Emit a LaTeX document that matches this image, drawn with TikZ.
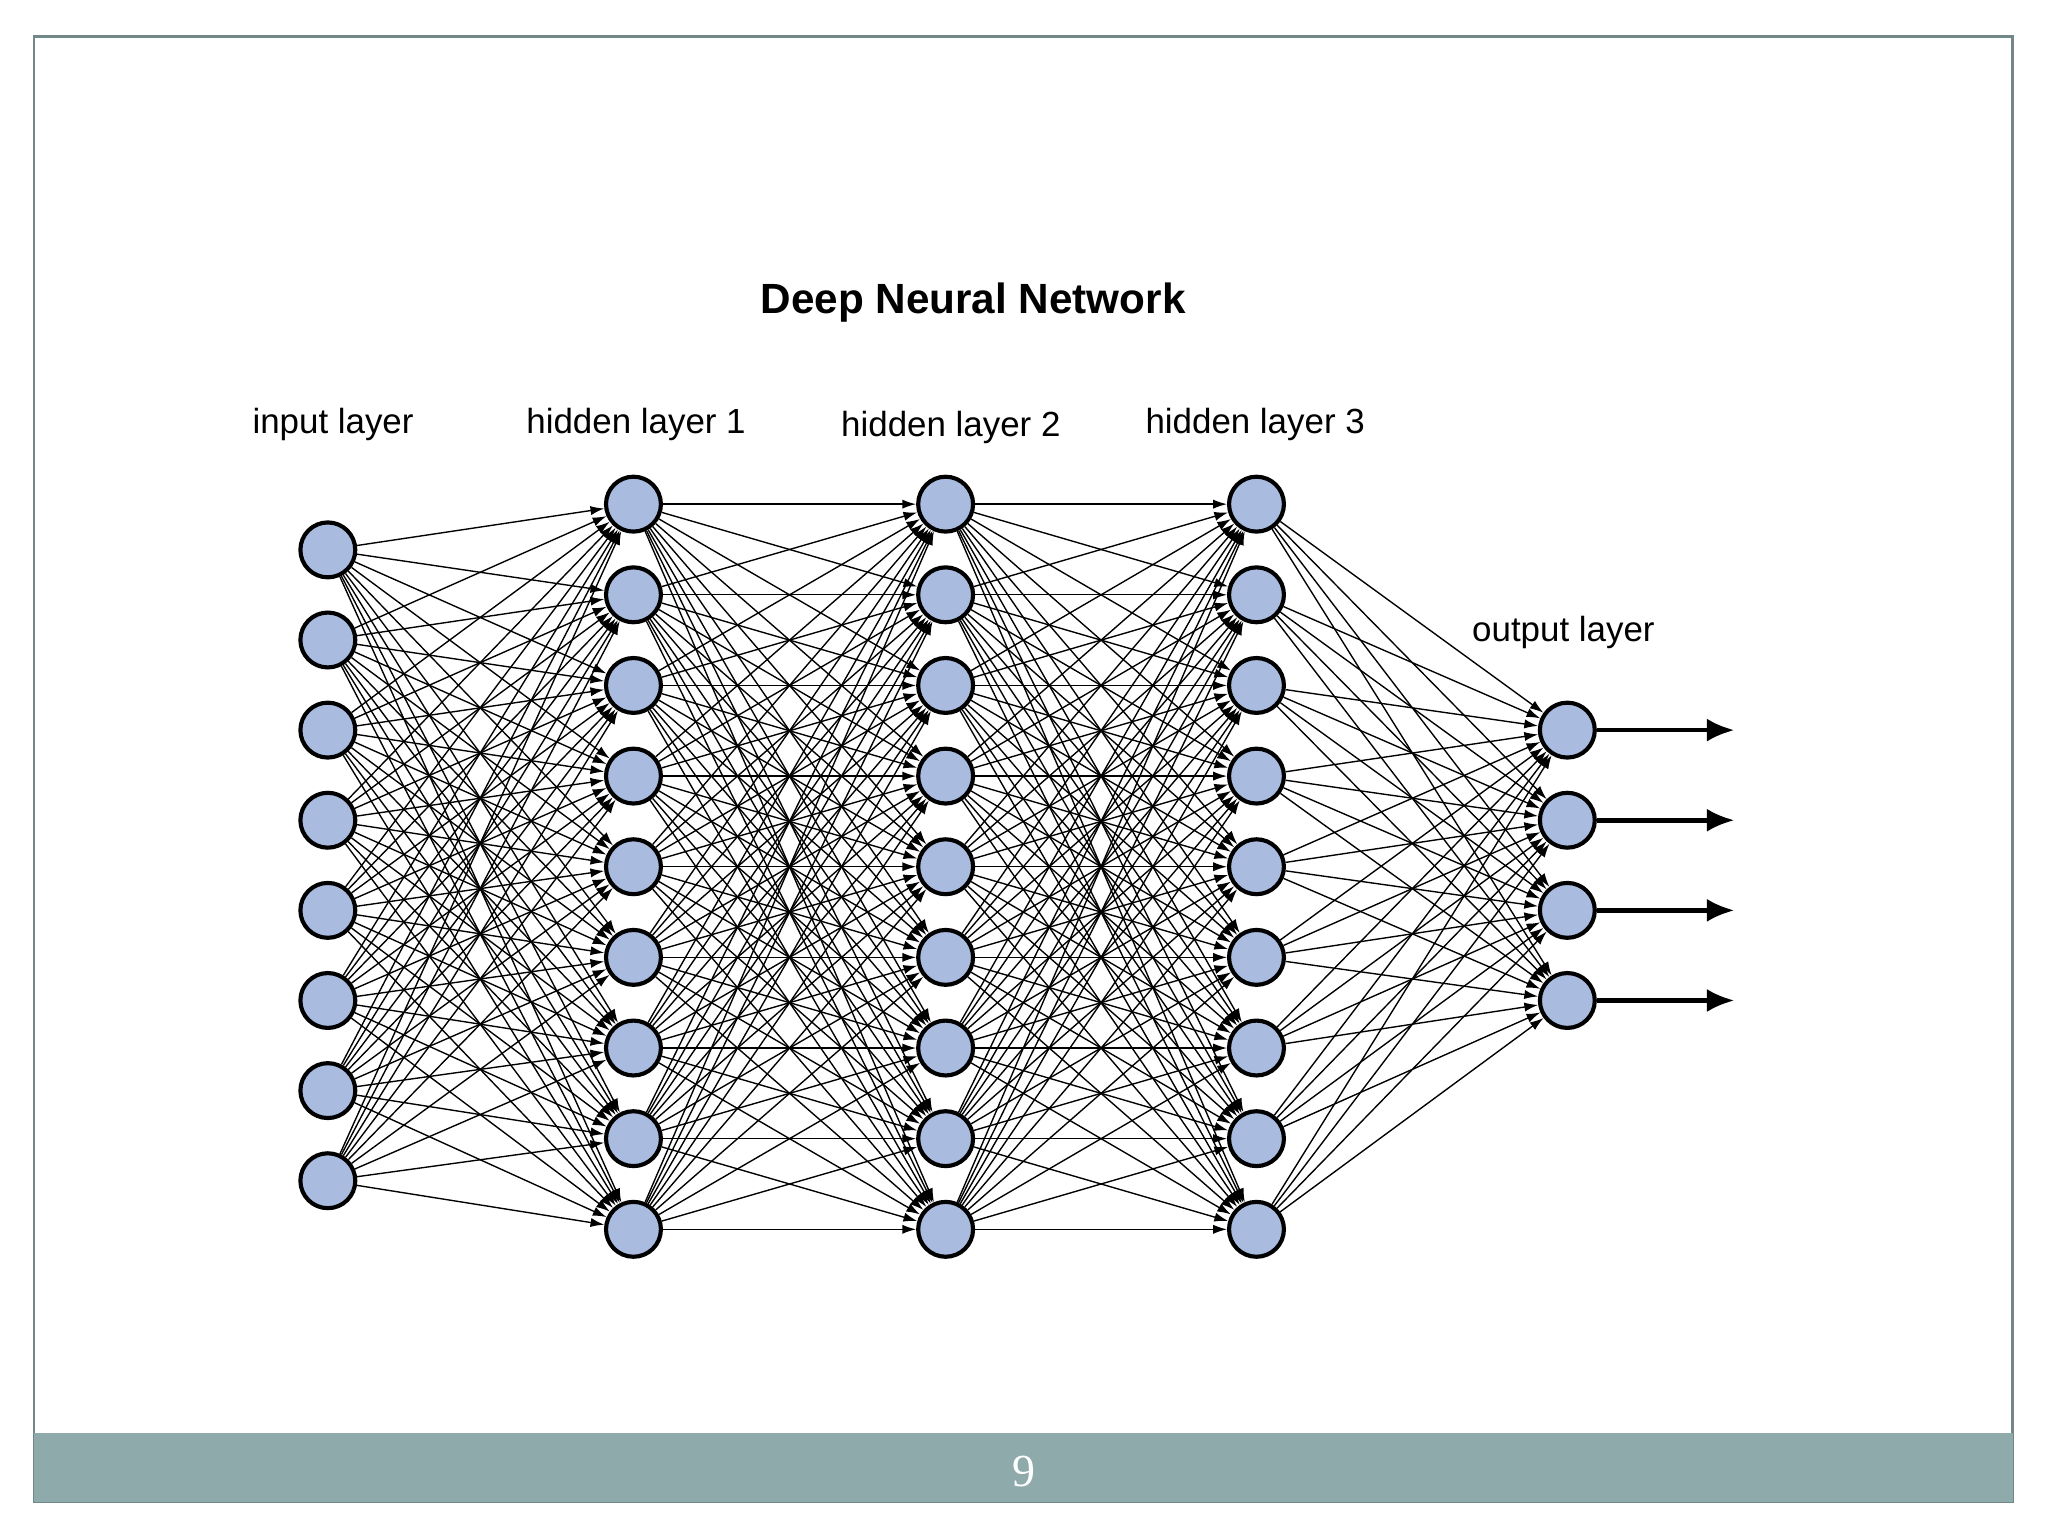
\documentclass[tikz,border=0pt]{standalone}
\usepackage{fontspec}
\setmainfont{Liberation Sans}
\usetikzlibrary{arrows.meta}
\definecolor{nodefill}{HTML}{A9BCE0}
\definecolor{barcol}{HTML}{8FAAAA}
\begin{document}
\begin{tikzpicture}[x=0.01cm,y=-0.01cm,
  neuron/.style={circle,draw=black,line width=0.9pt,fill=nodefill,minimum width=0.39cm,minimum height=0.42cm,inner sep=0pt},
  conn/.style={line width=0.3pt,-{Latex[length=3pt,width=2pt]}},
  lbl/.style={font=\fontsize{7.6}{9}\selectfont},
  outarr/.style={line width=1pt,-{Latex[length=6pt,width=5pt]}}]
\useasboundingbox (0,0) rectangle (1568,1176);
\draw[barcol!80!black,line width=0.6pt] (26,28) rectangle (1541,1150);
\fill[barcol] (26,1097) rectangle (1541,1150);
\node[text=white,font=\fontspec{Liberation Serif}\fontsize{10}{12}\selectfont] (pg) at (784,1127) {9};
\node[font=\fontsize{9.2}{11}\selectfont\bfseries] (title) at (745,232) {Deep Neural Network};
\node[lbl] (l0) at (255,325) {input layer};
\node[lbl] (l1) at (487,325) {hidden layer 1};
\node[lbl] (l2) at (728,327) {hidden layer 2};
\node[lbl] (l3) at (961,325) {hidden layer 3};
\node[lbl] (l4) at (1197,484) {output layer};
\foreach \i in {1,...,8} \node[neuron] (a\i) at (251,{421+69*(\i-1)}) {};
\foreach \x/\n in {485/b,724/c,962/d}
  \foreach \i in {1,...,9} \node[neuron] (\n\i) at (\x,{386+69.4*(\i-1)}) {};
\foreach \i in {1,...,4} \node[neuron] (e\i) at (1200,{559+69*(\i-1)}) {};
\foreach \i in {1,...,8} \foreach \j in {1,...,9} \draw[conn] (a\i) -- (b\j);
\foreach \i in {1,...,9} \foreach \j in {1,...,9} {\draw[conn] (b\i) -- (c\j); \draw[conn] (c\i) -- (d\j);}
\foreach \i in {1,...,9} \foreach \j in {1,...,4} \draw[conn] (d\i) -- (e\j);
\foreach \i in {1,...,4} {\coordinate (o\i) at (1328,{559+69*(\i-1)}); \draw[outarr] (e\i) -- (o\i);}
\end{tikzpicture}
\end{document}
